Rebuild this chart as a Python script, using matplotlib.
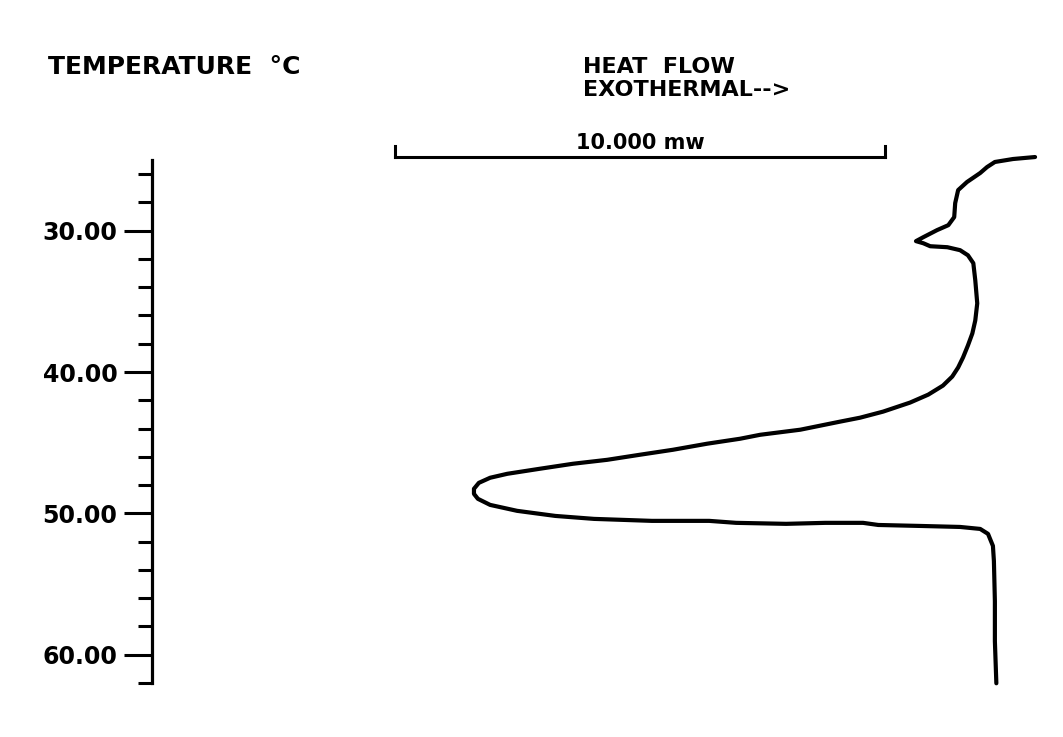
import numpy as np
import matplotlib
matplotlib.use("Agg")
import matplotlib.pyplot as plt
from matplotlib.ticker import FixedLocator, FormatStrFormatter

# DSC trace: temperature (deg C, increasing downward) vs heat flow (mW)
temperature = [24.79, 24.93, 25.14, 25.50, 25.92, 26.56, 27.13, 28.05, 29.04, 29.61,
               29.96, 30.46, 30.74, 30.89, 31.10, 31.17, 31.38, 31.74, 32.30, 33.51,
               35.14, 36.35, 37.27, 38.12, 38.97, 39.68, 40.32, 40.96, 41.60, 42.16,
               42.80, 43.23, 43.51, 44.08, 44.44, 44.72, 45.07, 45.50, 45.85, 46.21,
               46.49, 46.84, 47.20, 47.48, 47.84, 48.26, 48.62, 48.97, 49.40, 49.82,
               50.18, 50.39, 50.53, 50.53, 50.67, 50.74, 50.67, 50.67, 50.82, 50.89,
               50.96, 51.10, 51.45, 52.30, 53.37, 56.21, 59.04, 62.02]
heat_flow = [13.06, 12.61, 12.24, 12.08, 11.94, 11.67, 11.49, 11.43, 11.41, 11.29,
             11.06, 10.78, 10.63, 10.78, 10.92, 11.27, 11.53, 11.69, 11.80, 11.84,
             11.88, 11.84, 11.78, 11.69, 11.59, 11.49, 11.37, 11.18, 10.88, 10.51,
             9.96, 9.49, 9.08, 8.27, 7.45, 7.04, 6.37, 5.67, 5.00, 4.33,
             3.63, 2.96, 2.29, 1.94, 1.71, 1.61, 1.61, 1.69, 1.94, 2.49,
             3.27, 4.06, 5.24, 6.41, 6.96, 7.98, 8.78, 9.55, 9.86, 10.73,
             11.53, 11.94, 12.10, 12.20, 12.22, 12.24, 12.24, 12.27]

major_ticks = [30, 40, 50, 60]
minor_ticks = list(range(26, 63, 2))
scale_bar_mw = 10.0
scale_label = "10.000 mw"

fig = plt.figure(figsize=(10.63, 7.37), dpi=100)
ax = fig.add_axes([152 / 1063, 1 - 683 / 737, (1063 - 152) / 1063, 523 / 737])

ax.plot(heat_flow, temperature, color="black", lw=3.0, clip_on=False,
        solid_joinstyle="round", solid_capstyle="round")

ax.set_ylim(62, 25)
ax.set_xlim(-4.96, 13.63)

for s in ["top", "right", "bottom"]:
    ax.spines[s].set_visible(False)
ax.spines["left"].set_linewidth(2.3)
ax.set_xticks([])

ax.yaxis.set_major_locator(FixedLocator(major_ticks))
ax.yaxis.set_minor_locator(FixedLocator([t for t in minor_ticks if t not in major_ticks]))
ax.yaxis.set_major_formatter(FormatStrFormatter("%.2f"))
ax.tick_params(axis="y", which="major", direction="out", length=20, width=2.2, pad=5,
               labelsize=17)
ax.tick_params(axis="y", which="minor", direction="out", length=10, width=2.2)
for lab in ax.get_yticklabels():
    lab.set_fontweight("bold")

# scale bar for heat flow
tr = ax.get_xaxis_transform()
ax.plot([0, scale_bar_mw], [1.006, 1.006], color="black", lw=2.2, transform=tr, clip_on=False)
ax.plot([0, 0], [1.006, 1.026], color="black", lw=2.2, transform=tr, clip_on=False)
ax.plot([scale_bar_mw, scale_bar_mw], [1.006, 1.026], color="black", lw=2.2,
        transform=tr, clip_on=False)
ax.text(scale_bar_mw / 2, 1.014, scale_label, transform=tr, ha="center", va="bottom",
        fontsize=15, fontweight="bold")

fig.text(48 / 1063, 1 - 67 / 737, "TEMPERATURE  °C", ha="left", va="center",
         fontsize=18, fontweight="bold")
fig.text(583 / 1063, 1 - 67 / 737, "HEAT  FLOW", ha="left", va="center",
         fontsize=16, fontweight="bold")
fig.text(583 / 1063, 1 - 90 / 737, "EXOTHERMAL-->", ha="left", va="center",
         fontsize=16, fontweight="bold")

fig.savefig("out.png", dpi=100, facecolor="white")
